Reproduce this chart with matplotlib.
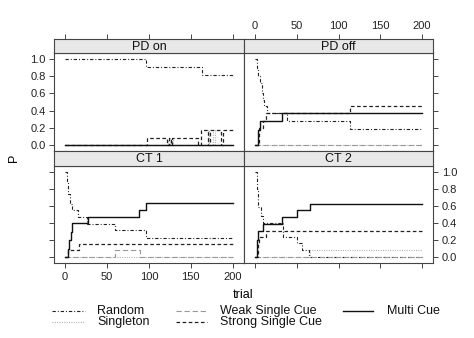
import matplotlib
matplotlib.use("Agg")
import matplotlib.pyplot as plt
from matplotlib.lines import Line2D

plt.rcParams['font.family'] = ['Liberation Sans', 'DejaVu Sans']
plt.rcParams['lines.scale_dashes'] = False

# ---------------- data: (trial, P) breakpoints of step curves ----------------
panels = ["PD on", "PD off", "CT 1", "CT 2"]
series = ["Random", "Singleton", "Weak Single Cue", "Strong Single Cue", "Multi Cue"]
x_ticks = [0, 50, 100, 150, 200]
y_ticks = [0.0, 0.2, 0.4, 0.6, 0.8, 1.0]

pdon_random = [(0, 1.0), (97, 0.91), (163, 0.82), (200, 0.82)]
pdon_singleton = [(0, 0.0), (123, 0.06), (125, 0.0), (127, 0.06), (129, 0.0),
                  (170, 0.18), (172, 0.0), (177, 0.18), (179, 0.0), (200, 0.0)]
pdon_weak = [(0, 0.0), (200, 0.0)]
pdon_strong = [(0, 0.0), (98, 0.085), (122, 0.0), (124, 0.085), (126, 0.0),
               (128, 0.085), (159, 0.0), (162, 0.18), (171, 0.0), (173, 0.18),
               (186, 0.0), (188, 0.18), (200, 0.18)]
pdon_multi = [(0, 0.0), (200, 0.0)]

pdoff_random = [(0, 1.0), (2, 0.9), (4, 0.8), (6, 0.72), (8, 0.6), (9, 0.52),
                (11, 0.45), (14, 0.37), (38, 0.28), (114, 0.19), (200, 0.19)]
pdoff_singleton = [(0, 0.0), (200, 0.0)]
pdoff_weak = [(0, 0.0), (200, 0.0)]
pdoff_strong = [(0, 0.0), (5, 0.2), (10, 0.28), (13, 0.37), (114, 0.45), (200, 0.45)]
pdoff_multi = [(0, 0.0), (3, 0.17), (6, 0.28), (32, 0.37), (200, 0.37)]

ct1_random = [(0, 1.0), (2, 0.88), (4, 0.74), (6, 0.62), (8, 0.55), (16, 0.47),
              (26, 0.39), (60, 0.32), (97, 0.23), (200, 0.23)]
ct1_singleton = [(0, 0.0), (200, 0.0)]
ct1_weak = [(0, 0.0), (60, 0.08), (89, 0.0), (200, 0.0)]
ct1_strong = [(0, 0.0), (3, 0.08), (17, 0.16), (200, 0.16)]
ct1_multi = [(0, 0.0), (3, 0.1), (5, 0.2), (7, 0.3), (8, 0.395), (27, 0.47),
             (88, 0.55), (97, 0.63), (200, 0.63)]

ct2_random = [(0, 1.0), (2, 0.8), (4, 0.59), (7, 0.48), (10, 0.4), (33, 0.24),
              (50, 0.17), (56, 0.08), (65, 0.0), (200, 0.0)]
ct2_singleton = [(0, 0.0), (66, 0.09), (200, 0.09)]
ct2_weak = [(0, 0.0), (200, 0.0)]
ct2_strong = [(0, 0.0), (3, 0.17), (5, 0.24), (13, 0.31), (200, 0.31)]
ct2_multi = [(0, 0.0), (2, 0.2), (3, 0.31), (10, 0.39), (32, 0.47), (50, 0.55),
             (66, 0.62), (200, 0.62)]

panel_data = {
    "PD on": [pdon_random, pdon_singleton, pdon_weak, pdon_strong, pdon_multi],
    "PD off": [pdoff_random, pdoff_singleton, pdoff_weak, pdoff_strong, pdoff_multi],
    "CT 1": [ct1_random, ct1_singleton, ct1_weak, ct1_strong, ct1_multi],
    "CT 2": [ct2_random, ct2_singleton, ct2_weak, ct2_strong, ct2_multi],
}

# ---------------- styles ----------------
styles = {
    "Random": dict(color="#222222", lw=0.8, dashes=(2.4, 1.4, 0.7, 1.4)),
    "Singleton": dict(color="#aaaaaa", lw=0.8, dashes=(0.7, 1.0)),
    "Weak Single Cue": dict(color="#999999", lw=0.8, dashes=(3.8, 2.0)),
    "Strong Single Cue": dict(color="#222222", lw=0.9, dashes=(2.6, 1.8)),
    "Multi Cue": dict(color="#111111", lw=1.0, dashes=None),
}

W, H = 474, 338
fig = plt.figure(figsize=(W / 100, H / 100), dpi=100)

def fx(px):
    return px / W

def fy(py):
    return 1 - py / H

col_x = [(54, 244), (244, 433.3)]
rows = [dict(strip=(39.3, 53.3), plot=(53.3, 151)),
        dict(strip=(151, 165.7), plot=(165.7, 263.3))]

XLIM = (-13.2, 213.4)
YLIM = (-0.07, 1.068)
frame_col = "#444444"
tick_kw = dict(length=3.6, width=0.7, colors=frame_col, labelcolor="#222222",
               labelsize=8, pad=2.5, direction="out")

for i, name in enumerate(panels):
    r, c = divmod(i, 2)
    x0, x1 = col_x[c]
    sy0, sy1 = rows[r]["strip"]
    py0, py1 = rows[r]["plot"]
    ax = fig.add_axes([fx(x0), fy(py1), fx(x1) - fx(x0), fy(py0) - fy(py1)])
    sax = fig.add_axes([fx(x0), fy(sy1), fx(x1) - fx(x0), fy(sy0) - fy(sy1)])

    for sname, pts in zip(series, panel_data[name]):
        t = [p[0] for p in pts]
        v = [p[1] for p in pts]
        st = styles[sname]
        line, = ax.step(t, v, where="post", color=st["color"], lw=st["lw"])
        if st["dashes"] is not None:
            line.set_dashes(st["dashes"])

    ax.set_xlim(*XLIM)
    ax.set_ylim(*YLIM)
    for sp in ax.spines.values():
        sp.set_color(frame_col)
        sp.set_linewidth(0.8)

    # strip
    sax.set_xlim(*XLIM)
    sax.set_facecolor("#e8e8e8")
    sax.set_yticks([])
    for sp in sax.spines.values():
        sp.set_color(frame_col)
        sp.set_linewidth(0.8)
    sax.text(0.5, 0.45, name, transform=sax.transAxes, ha="center", va="center",
             fontsize=9, color="#111111")

    # ticks (lattice alternating style)
    ax.set_yticks(y_ticks)
    ax.set_xticks(x_ticks)
    ax.tick_params(axis="both", **tick_kw)
    sax.set_xticks(x_ticks)
    sax.tick_params(axis="x", **tick_kw)
    sax.tick_params(axis="x", bottom=False, labelbottom=False)

    if r == 0:
        ax.tick_params(axis="x", bottom=False, labelbottom=False, top=False)
        sax.tick_params(axis="x", top=True, labeltop=(c == 1))
    else:
        ax.tick_params(axis="x", bottom=True, labelbottom=(c == 0), top=False)
        sax.tick_params(axis="x", top=False, labeltop=False)
    if c == 0:
        ax.tick_params(axis="y", left=True, labelleft=(r == 0), right=False, labelright=False)
    else:
        ax.tick_params(axis="y", left=False, labelleft=False, right=True, labelright=(r == 1))
    ax.yaxis.set_major_formatter(matplotlib.ticker.FormatStrFormatter("%.1f"))

# axis labels
fig.text(fx(14), fy(158), "P", rotation=90, ha="center", va="center", fontsize=9)
fig.text(fx(243.5), fy(295), "trial", ha="center", va="center", fontsize=9)

# legend (lattice key)
key_cols = [(52, 85, 97.5), (175.7, 207, 220), (343, 373, 386.7)]
key_rows = [310.7, 321.7]
for k, sname in enumerate(series):
    col, row = divmod(k, 2)
    lx0, lx1, tx = key_cols[col]
    yy = key_rows[row]
    st = styles[sname]
    ln = Line2D([fx(lx0), fx(lx1)], [fy(yy), fy(yy)], transform=fig.transFigure,
                color=st["color"], lw=st["lw"])
    if st["dashes"] is not None:
        ln.set_dashes(st["dashes"])
    fig.add_artist(ln)
    fig.text(fx(tx), fy(yy), sname, ha="left", va="center", fontsize=9, color="#111111")

fig.savefig("out.png", dpi=100)
